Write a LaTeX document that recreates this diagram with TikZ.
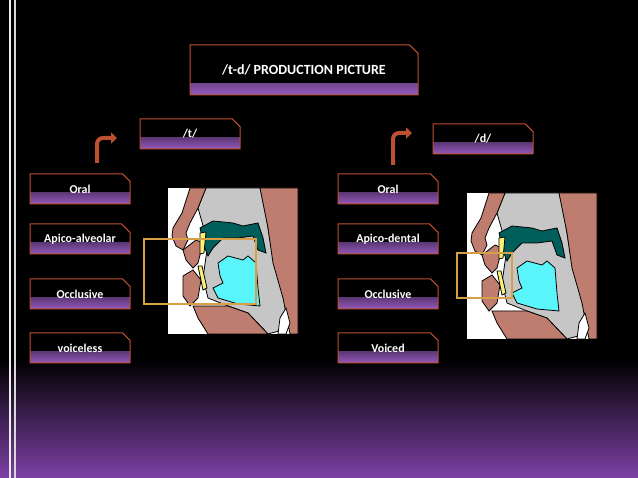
\documentclass[tikz,border=0pt]{standalone}
\usepackage{fontspec}
\setmainfont{Carlito}
\usetikzlibrary{shapes.misc,arrows.meta}
\definecolor{boxborder}{RGB}{190,80,50}
\definecolor{boxpurple}{RGB}{150,90,190}
\definecolor{bgpurple}{RGB}{125,65,165}
\definecolor{skin}{RGB}{190,125,110}
\definecolor{palate}{RGB}{0,95,90}
\definecolor{tongue}{RGB}{90,245,250}
\definecolor{tooth}{RGB}{250,240,120}
\definecolor{frame}{RGB}{215,160,70}
\definecolor{arrowc}{RGB}{190,80,50}
\tikzset{
 lab/.style={chamfered rectangle, chamfered rectangle corners=north east, chamfered rectangle xsep=6pt,
  draw=boxborder, line width=1pt, fill=black, text=white, font=\bfseries\fontsize{12}{14}\selectfont,
  minimum width=#1, minimum height=30pt, inner sep=0pt,
  path picture={\shade[top color=black,bottom color=boxpurple]
   ([yshift=11pt]path picture bounding box.south west) rectangle (path picture bounding box.south east);}},
 lab/.default=100pt,
 outl/.style={draw=black, line width=0.8pt},
 bent/.style={draw=arrowc, line width=4pt, -{Triangle[length=6pt,width=11pt]}},
 frm/.style={draw=frame, line width=2pt},
 pics/mouth/.style={code={
  \fill[white] (0,0) rectangle (130,146);
  \path[outl,fill=gray!45] (38,0)--(95,0)--(100,40)--(105,70)--(115,100)--(122,140)--(100,146)--(80,125)--(60,118)--(40,110)--(35,90)--(40,55)--(30,20)--cycle;
  \path[outl,fill=skin] (92,0)--(130,0)--(130,146)--(122,146)--(115,110)--(105,75)--(100,40)--cycle;
  \path[outl,fill=skin] (22,0)--(38,0)--(30,20)--(22,35)--(18,45)--(20,52)--(15,62)--(8,58)--(4,48)--(5,40)--(14,25)--cycle;
  \path[outl,fill=skin] (15,62)--(28,52)--(35,55)--(30,75)--(25,80)--(18,72)--cycle;
  \path[outl,fill=skin] (15,88)--(25,82)--(33,92)--(30,110)--(22,118)--(15,108)--cycle;
  \path[outl,fill=skin] (25,118)--(60,118)--(80,125)--(100,146)--(40,146)--(30,130)--cycle;
  \path[outl,fill=palate] (32,40)--(45,33)--(65,35)--(75,38)--(90,35)--(95,50)--(98,65)--(90,62)--(85,48)--(70,50)--(55,50)--(45,60)--(40,68)--(36,58)--cycle;
  \path[outl,fill=tongue] (50,75)--(60,68)--(75,72)--(80,68)--(88,75)--(90,100)--(92,118)--(70,116)--(50,110)--(45,100)--(55,95)--(52,88)--cycle;
  \path[outl,fill=tooth] (32,45)--(38,44)--(36,65)--(32,66)--cycle;
  \path[outl,fill=tooth] (30,78)--(34,78)--(39,100)--(35,102)--cycle;
  \path[outl,fill=white] (112,130)--(118,120)--(122,135)--(118,146)--(110,146)--cycle;
 }}
}
\begin{document}
\begin{tikzpicture}[x=1pt,y=-1pt]
\useasboundingbox (0,0) rectangle (638,478);
\fill[black] (0,0) rectangle (638,478);
\shade[top color=black,bottom color=bgpurple] (0,360) rectangle (638,478);
\draw[white!85!gray,line width=1.2pt] (10,0)--(10,478);
\draw[white!70!gray,line width=1.2pt] (15,0)--(15,478);

\node[lab=228pt,minimum height=50pt,font=\bfseries\fontsize{14}{16}\selectfont] (title) at (304,70) {/t-d/ PRODUCTION PICTURE};

\node[lab] (t) at (190,134) {/t/};
\node[lab] (oral1) at (80,189) {Oral};
\node[lab] (apa) at (80,239) {Apico-alveolar};
\node[lab] (occ1) at (80,294) {Occlusive};
\node[lab] (vl) at (80,348) {voiceless};

\node[lab] (d) at (483,139) {/d/};
\node[lab] (oral2) at (388,189) {Oral};
\node[lab] (apd) at (388,239) {Apico-dental};
\node[lab] (occ2) at (388,294) {Occlusive};
\node[lab] (vd) at (388,348) {Voiced};

\coordinate (a1s) at (97,163); \coordinate (a1c) at (97,138); \coordinate (a1e) at (117,138);
\draw[bent,rounded corners=6pt] (a1s)--(a1c)--(a1e);
\coordinate (a2s) at (393,165); \coordinate (a2c) at (393,133); \coordinate (a2e) at (412,133);
\draw[bent,rounded corners=6pt] (a2s)--(a2c)--(a2e);

\pic at (168,188) {mouth};
\pic at (467,193) {mouth};

\draw[frm] (144,239) rectangle (256,304);
\draw[frm] (457,253) rectangle (512,298);
\end{tikzpicture}
\end{document}
